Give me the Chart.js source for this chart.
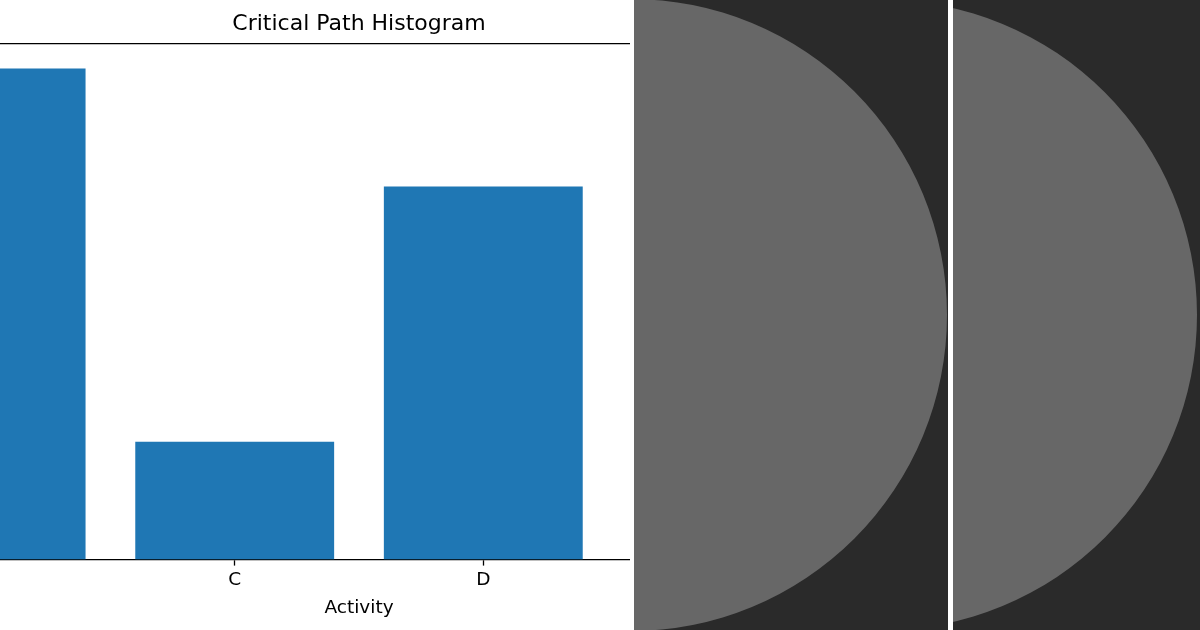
<!DOCTYPE html>
<html><head><meta charset="utf-8">
<script src="https://cdn.jsdelivr.net/npm/chart.js@4.4.1/dist/chart.umd.min.js"></script>
<style>
html,body{margin:0;padding:0;background:#fff;}
body{width:1200px;height:630px;position:relative;overflow:hidden;}
#plotClip{position:absolute;left:0;top:0;width:630px;height:630px;overflow:hidden;background:#fff;}
#barCanvas{position:absolute;left:-434px;top:0;}
.panel{position:absolute;top:0;height:630px;background:#2a2a2a;overflow:hidden;}
#p1{left:634px;width:314px;}
#p2{left:953px;width:247px;}
.panel canvas{position:absolute;}
#pie1{left:-319px;top:-1px;}
#pie2{left:-386px;top:0px;}
</style></head>
<body>
<div id="plotClip"><canvas id="barCanvas" width="1586" height="630"></canvas></div>
<div class="panel" id="p1"><canvas id="pie1" width="632" height="632"></canvas></div>
<div class="panel" id="p2"><canvas id="pie2" width="630" height="630"></canvas></div>
<script>
// ---- data ----
const categories = ['A', 'B', 'C', 'D', 'E', 'F'];
const counts = [25, 25, 6, 19, 13, 25];
const chartTitle = 'Critical Path Histogram';
const xAxisLabel = 'Activity';
const discShare = [1];

Chart.defaults.font.family = "'DejaVu Sans', sans-serif";
Chart.defaults.color = '#000';

const n = categories.length;
const xMargin = 0.05 * (n - 1 + 0.8);
const yMax = Math.max(...counts) * 1.05;

new Chart(document.getElementById('barCanvas'), {
  type: 'bar',
  data: {
    datasets: [{
      data: categories.map((c, i) => ({ x: i, y: counts[i] })),
      backgroundColor: '#1f77b4',
      borderWidth: 0,
      barPercentage: 0.8,
      categoryPercentage: 1.0
    }]
  },
  options: {
    responsive: false,
    animation: false,
    events: [],
    layout: { padding: 0 },
    plugins: {
      legend: { display: false },
      tooltip: { enabled: false },
      title: {
        display: true,
        text: chartTitle,
        color: '#000',
        font: { size: 22, weight: 'normal' },
        padding: { top: 11, bottom: 6.6 }
      }
    },
    scales: {
      x: {
        type: 'linear',
        position: 'bottom',
        offset: false,
        min: -0.4 - xMargin,
        max: n - 1 + 0.4 + xMargin,
        afterBuildTicks: (scale) => { scale.ticks = categories.map((c, i) => ({ value: i })); },
        ticks: {
          autoSkip: false, maxRotation: 0, padding: 3,
          font: { size: 18.5 }, color: '#000',
          callback: (v) => categories[v]
        },
        grid: { display: true, drawOnChartArea: false, drawTicks: true, tickLength: 6, tickWidth: 1.3, color: '#000', offset: false },
        border: { display: true, color: '#000', width: 1.3 },
        title: { display: true, text: xAxisLabel, font: { size: 18.5 }, color: '#000', padding: { top: 3, bottom: 11 } }
      },
      x2: {
        type: 'linear',
        position: 'top',
        display: true,
        min: 0, max: 1,
        ticks: { display: false },
        grid: { display: false, drawTicks: false },
        border: { display: true, color: '#000', width: 1.3 }
      },
      y: {
        display: false,
        min: 0,
        max: yMax
      }
    }
  }
});

function disc(id) {
  new Chart(document.getElementById(id), {
    type: 'pie',
    data: { labels: ['disc'], datasets: [{ data: discShare, backgroundColor: '#676767', borderWidth: 0 }] },
    options: {
      responsive: false, animation: false, events: [],
      layout: { padding: 0 },
      plugins: { legend: { display: false }, tooltip: { enabled: false } }
    }
  });
}
disc('pie1');
disc('pie2');
</script>
</body></html>
